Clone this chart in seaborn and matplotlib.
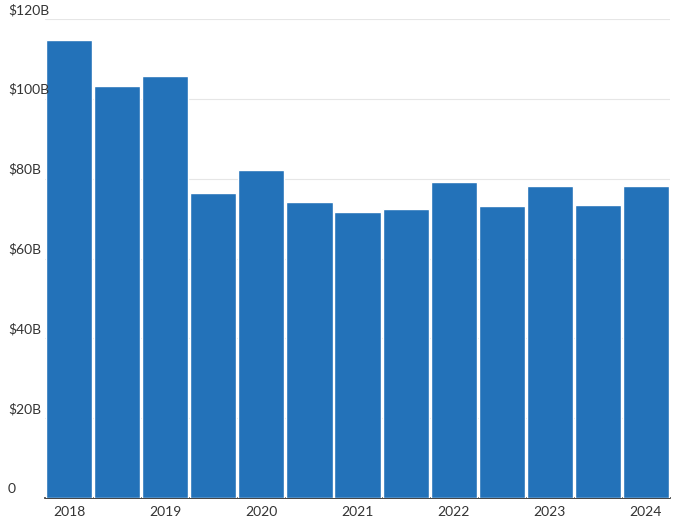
import matplotlib
matplotlib.use("Agg")
import matplotlib.pyplot as plt
import seaborn as sns
import pandas as pd

periods = ["2018 H1","2018 H2","2019 H1","2019 H2","2020 H1","2020 H2","2021 H1",
           "2021 H2","2022 H1","2022 H2","2023 H1","2023 H2","2024 H1"]
values = [114.8, 103.3, 105.8, 76.4, 82.2, 74.2, 71.7, 72.4, 79.2, 73.2, 78.2, 73.4, 78.2]
tick_labels = ["2018","","2019","","2020","","2021","","2022","","2023","","2024"]
y_ticks = [0, 20, 40, 60, 80, 100, 120]
y_labels = ["0", "$20B", "$40B", "$60B", "$80B", "$100B", "$120B"]

sns.set_theme(style="white")
plt.rcParams['font.family'] = ['Lato', 'DejaVu Sans']
df = pd.DataFrame({"period": periods, "value": values})

fig = plt.figure(figsize=(6.8, 5.17), dpi=100)
W, H = 680, 517
ax = fig.add_axes([45/W, 19/H, 625/W, (498-19)/H])
sns.barplot(data=df, x="period", y="value", color="#2372b9", width=0.96,
            saturation=1, ax=ax, zorder=3)
ax.set_ylim(0, 120)
ax.set_xlim(-0.5, len(periods)-0.5)
ax.set_xlabel(""); ax.set_ylabel("")
ax.set_yticks(y_ticks)
ax.set_yticklabels([])
ax.tick_params(axis="y", length=0)
ax.grid(axis="y", color="#e6e6e6", linewidth=0.8, zorder=0)
ax.set_xticks(range(len(periods)))
ax.set_xticklabels(tick_labels, fontsize=10, color="#333333")
ax.tick_params(axis="x", length=0, pad=6)
for s in ["top", "right", "left"]:
    ax.spines[s].set_visible(False)
ax.spines["bottom"].set_color("#222222")
ax.spines["bottom"].set_linewidth(1.2)

for v, lab in zip(y_ticks, y_labels):
    ypix = 498 - v * (479/120)
    fig.text(8/W, (H - ypix + 3)/H, lab, fontsize=10, color="#333333",
             ha="left", va="bottom")

fig.savefig("out.png", dpi=100)
